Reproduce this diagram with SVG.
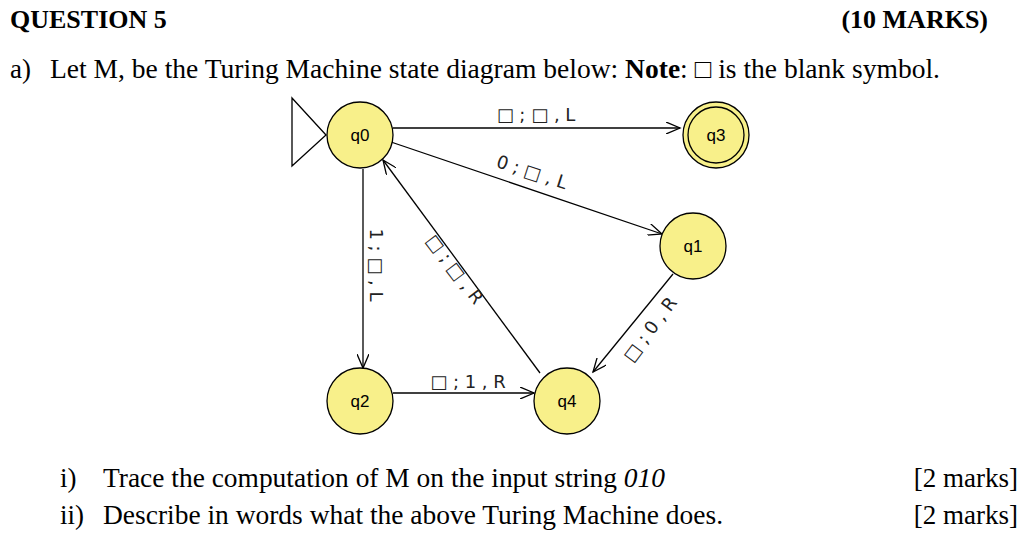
<svg xmlns="http://www.w3.org/2000/svg" width="1018" height="539" viewBox="0 0 1018 539">
<style>
.t{font-family:"Liberation Serif",serif;font-size:27px;fill:#000}
.b{font-weight:bold;font-size:26px}
.n circle{fill:#f8f08a;stroke:#000;stroke-width:1.3}
.n text{font-family:"Liberation Sans",sans-serif;font-size:17px;text-anchor:middle;fill:#000}
.e line{stroke:#000;stroke-width:1.3;marker-end:url(#a)}
.l{font-family:"DejaVu Sans",sans-serif;font-size:18px;fill:#222;text-anchor:middle}
</style>
<defs><marker id="a" markerWidth="16" markerHeight="12" refX="14" refY="6" orient="auto" markerUnits="userSpaceOnUse"><path d="M0,0 L14,6 L0,12" fill="none" stroke="#000" stroke-width="1.3"/></marker></defs>
<rect width="1018" height="539" fill="#fff"/>
<text class="t b" x="10" y="28">QUESTION 5</text>
<text class="t b" x="988" y="28" text-anchor="end">(10 MARKS)</text>
<text class="t" x="10" y="78">a)</text>
<text class="t" x="50" y="78" textLength="890" lengthAdjust="spacingAndGlyphs">Let M, be the Turing Machine state diagram below: <tspan font-weight="bold">Note</tspan>: □ is the blank symbol.</text>
<text class="t" x="60" y="487">i)</text>
<text class="t" x="103" y="487" textLength="562" lengthAdjust="spacingAndGlyphs">Trace the computation of M on the input string <tspan font-style="italic">010</tspan></text>
<text class="t" x="1018" y="487" text-anchor="end">[2 marks]</text>
<text class="t" x="60" y="524">ii)</text>
<text class="t" x="103" y="524" textLength="620" lengthAdjust="spacingAndGlyphs">Describe in words what the above Turing Machine does.</text>
<text class="t" x="1018" y="524" text-anchor="end">[2 marks]</text>
<path d="M292,98 L326,135 L292,166 Z" fill="none" stroke="#000" stroke-width="1.3"/>
<g class="e" id="edges">
<line x1="393" y1="128" x2="680" y2="128"/>
<line x1="391" y1="142" x2="662" y2="234"/>
<line x1="363" y1="169" x2="363" y2="368"/>
<line x1="393" y1="393" x2="534" y2="393"/>
<line x1="673" y1="274" x2="593" y2="372"/>
<line x1="540" y1="373" x2="383" y2="160"/>
</g>
<g id="labels">
<text class="l" x="536" y="121">□ ; □ , L</text>
<text class="l" transform="translate(530,178) rotate(18)">0 ; □ , L</text>
<text class="l" transform="translate(370,265) rotate(90)">1 ; □ , L</text>
<text class="l" transform="translate(450,273) rotate(53)">□ ; □ , R</text>
<text class="l" transform="translate(655,333) rotate(-53)">□ ; 0 , R</text>
<text class="l" x="468" y="388">□ ; 1 , R</text>
</g>
<g class="n" id="q0"><circle cx="360" cy="135" r="33"/><text x="360" y="141">q0</text></g>
<g class="n" id="q3"><circle cx="716" cy="135" r="33"/><circle cx="716" cy="135" r="28"/><text x="716" y="141">q3</text></g>
<g class="n" id="q1"><circle cx="693" cy="246" r="33"/><text x="693" y="252">q1</text></g>
<g class="n" id="q2"><circle cx="360" cy="401" r="33"/><text x="360" y="407">q2</text></g>
<g class="n" id="q4"><circle cx="567" cy="401" r="33"/><text x="567" y="407">q4</text></g>
</svg>
